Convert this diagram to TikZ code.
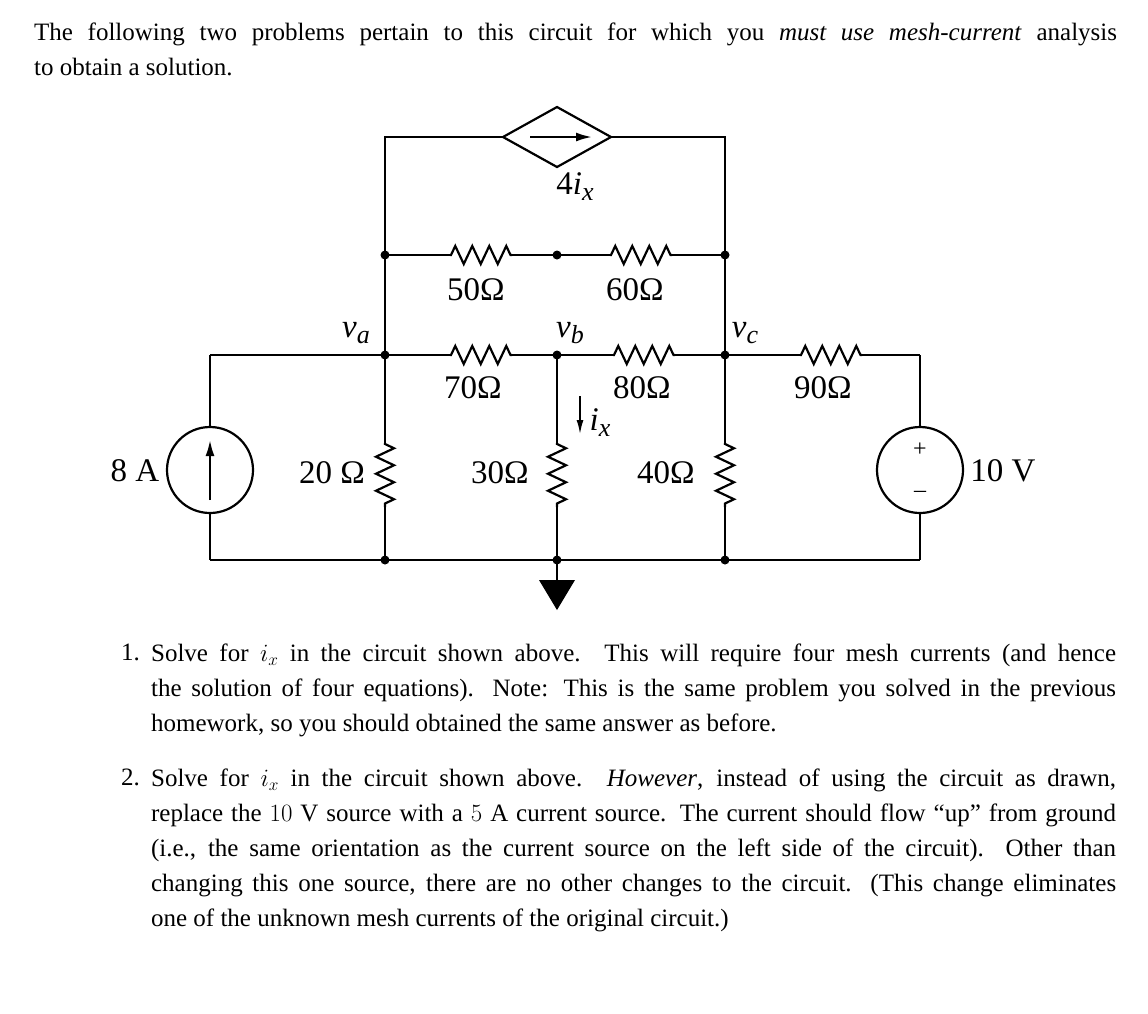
\documentclass[tikz,border=0pt]{standalone}
\usepackage{fontspec}
\setmainfont{Liberation Serif}
\usetikzlibrary{decorations.pathmorphing,arrows.meta}
\newcommand{\iv}[2]{{\itshape #1}\raisebox{-6pt}{\fontsize{26}{26}\selectfont\itshape #2}}
\begin{document}
\begin{tikzpicture}[x=1pt,y=-1pt,line width=2.2pt,
  res/.style={decorate,decoration={zigzag,segment length=17pt,amplitude=9pt,pre length=1pt,post length=1pt}},
  dotn/.style={circle,fill,inner sep=0pt,minimum size=9pt},
  lbl/.style={font=\fontsize{33}{33}\selectfont,inner sep=0pt},
  txt/.style={font=\fontsize{25}{35}\selectfont,inner sep=0pt,align=justify,anchor=north west}]
\useasboundingbox (0,0) rectangle (1148,1013);
% text
\node[txt,text width=1083pt] (p0) at (33,22) {The following two problems pertain to this circuit for which you \textit{must use mesh-current} analysis\linebreak to obtain a solution.};
\node[txt] (n1) at (120,643) {1.};
\node[txt,text width=965pt] (t1) at (150,643) {Solve for $i_x$ in the circuit shown above. This will require four mesh currents (and hence\linebreak the solution of four equations). Note: This is the same problem you solved in the previous\linebreak homework, so you should obtained the same answer as before.};
\node[txt] (n2) at (120,768) {2.};
\node[txt,text width=965pt] (t2) at (150,768) {Solve for $i_x$ in the circuit shown above. \textit{However}, instead of using the circuit as drawn,\linebreak replace the $10$ V source with a $5$ A current source. The current should flow ``up'' from ground\linebreak (i.e., the same orientation as the current source on the left side of the circuit). Other than\linebreak changing this one source, there are no other changes to the circuit. (This change eliminates\linebreak one of the unknown mesh currents of the original circuit.)};
% coordinates
\coordinate (TL) at (385,137); \coordinate (TR) at (725,137);
\coordinate (M1) at (385,255); \coordinate (M2) at (557,255); \coordinate (M3) at (725,255);
\coordinate (L0) at (210,355); \coordinate (A) at (385,355); \coordinate (B) at (557,355); \coordinate (C) at (725,355); \coordinate (R0) at (920,355);
\coordinate (BL) at (210,560); \coordinate (BA) at (385,560); \coordinate (BB) at (557,560); \coordinate (BC) at (725,560); \coordinate (BR) at (920,560);
% diamond source
\draw (503,137) -- (557,107) -- (611,137) -- (557,167) -- cycle;
\coordinate (dl) at (503,137); \coordinate (dr) at (611,137);
\draw (dl) -- (TL) -- (M1);
\draw (dr) -- (TR) -- (M3);
\draw[-{Latex[length=16pt,width=9pt]}] (530,137) -- (592,137);
\node[lbl] (k) at (575,187) {4\iv{i}{x}};
% top resistors row
\draw (M1) -- (450,255); \draw[res] (450,255) -- (512,255); \draw (512,255) -- (M2) -- (610,255);
\draw[res] (610,255) -- (672,255); \draw (672,255) -- (M3);
\node[lbl] (r50) at (476,290) {50Ω}; \node[lbl] (r60) at (635,290) {60Ω};
% middle row
\draw (L0) -- (A) -- (450,355); \draw[res] (450,355) -- (512,355); \draw (512,355) -- (B) -- (613,355);
\draw[res] (613,355) -- (675,355); \draw (675,355) -- (C) -- (800,355);
\draw[res] (800,355) -- (862,355); \draw (862,355) -- (R0);
\node[lbl] (r70) at (473,388) {70Ω}; \node[lbl] (r80) at (642,388) {80Ω}; \node[lbl] (r90) at (823,388) {90Ω};
\node[lbl] (va) at (356,333) {\iv{v}{a}}; \node[lbl] (vb) at (570,333) {\iv{v}{b}}; \node[lbl] (vc) at (745,333) {\iv{v}{c}};
% verticals
\draw (M1) -- (A) -- (385,443); \draw[res] (385,443) -- (385,507); \draw (385,507) -- (BA);
\draw (B) -- (557,443); \draw[res] (557,443) -- (557,507); \draw (557,507) -- (BB);
\draw (M3) -- (C) -- (725,443); \draw[res] (725,443) -- (725,507); \draw (725,507) -- (BC);
\node[lbl] (r20) at (332,473) {20 Ω}; \node[lbl] (r30) at (500,473) {30Ω}; \node[lbl] (r40) at (666,473) {40Ω};
% sources
\node[draw,circle,minimum size=86pt,inner sep=0pt] (cs) at (210,470) {};
\draw (L0) -- (cs.north); \draw (cs.south) -- (BL);
\draw[-{Latex[length=16pt,width=9pt]}] (210,500) -- (210,440);
\node[lbl] (l8) at (135,471) {8 A};
\node[draw,circle,minimum size=86pt,inner sep=0pt] (vs) at (920,470) {};
\draw (R0) -- (vs.north); \draw (vs.south) -- (BR);
\node[font=\fontsize{24}{24}\selectfont,inner sep=0pt] (pl) at (920,450) {+};
\node[font=\fontsize{24}{24}\selectfont,inner sep=0pt] (mi) at (920,494) {–};
\node[lbl] (l10) at (1003,471) {10 V};
% bottom
\draw (BL) -- (BR);
\coordinate (G) at (557,580);
\draw (BB) -- (G);
\fill (539,580) -- (575,580) -- (557,610) -- cycle;
% ix
\draw[-{Latex[length=14pt,width=7pt]},line width=1.6pt] (580,396) -- (580,434);
\node[lbl] (ix) at (600,423) {\iv{i}{x}};
% dots
\foreach \p in {M1,M2,M3,A,B,C,BA,BB,BC} \node[dotn] at (\p) {};
\end{tikzpicture}
\end{document}
